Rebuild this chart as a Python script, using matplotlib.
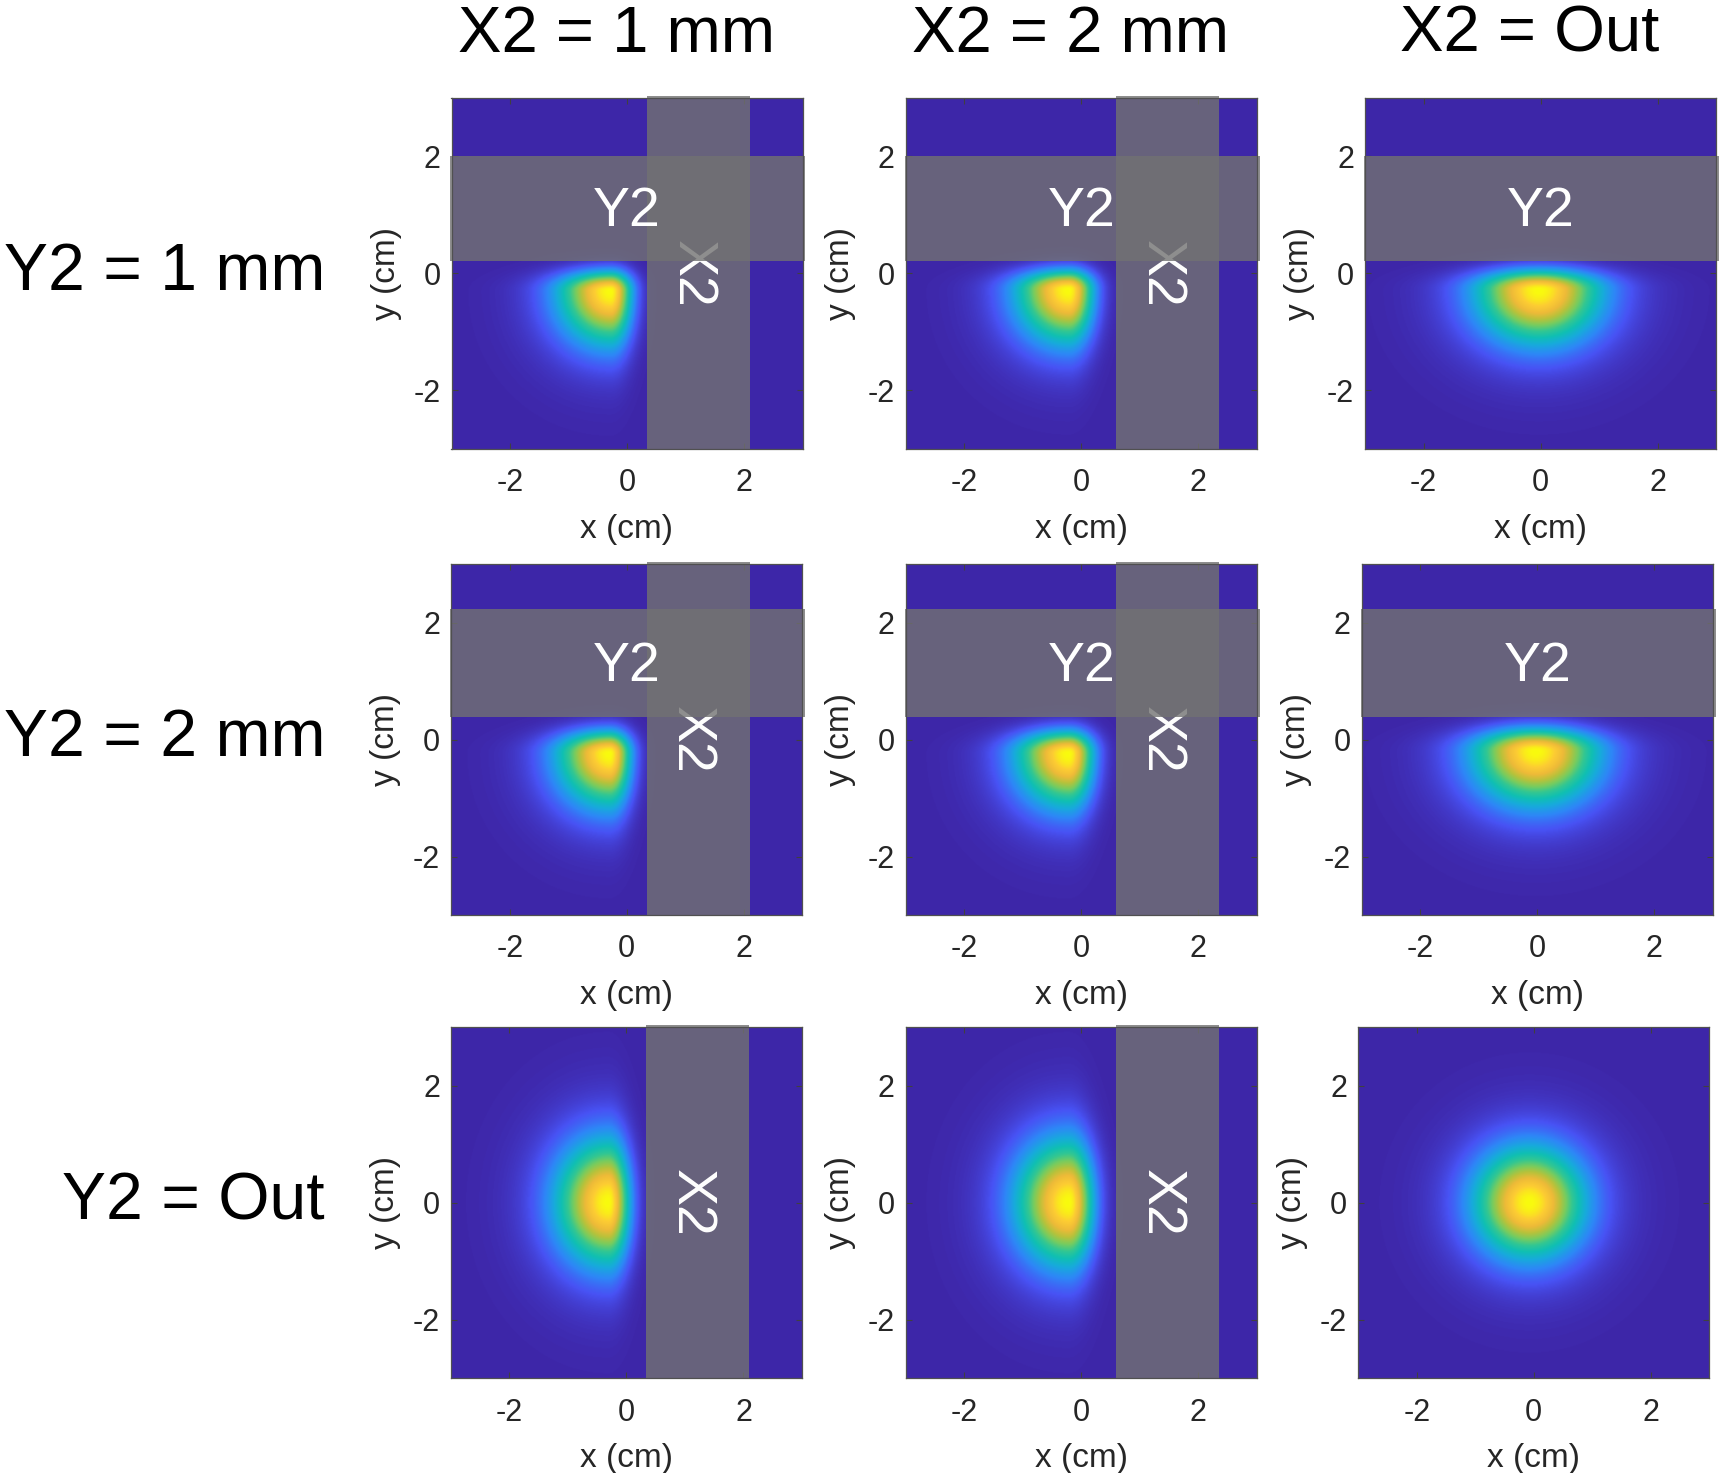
import numpy as np
import matplotlib
matplotlib.use("Agg")
import matplotlib.pyplot as plt
from matplotlib.colors import LinearSegmentedColormap
from matplotlib.patches import Rectangle

plt.rcParams['font.family'] = ['Liberation Sans', 'DejaVu Sans']

# ---------------- data ----------------
col_titles = ["X2 = 1 mm", "X2 = 2 mm", "X2 = Out"]
row_titles = ["Y2 = 1 mm", "Y2 = 2 mm", "Y2 = Out"]
tick_vals = [-2, 0, 2]
tick_labels = ["-2", "0", "2"]
x_label = "x (cm)"
y_label = "y (cm)"
band_x_text = "X2"
band_y_text = "Y2"

# jaw shadow extents (cm) per column (X2) and per row (Y2); None = jaw out
x2_band = [(0.34, 2.10), (0.60, 2.35), None]
y2_band = [(0.22, 2.01), (0.39, 2.23), None]

# beam-profile parameters (rows: Y2, cols: X2)
peak_x = [[-0.29, -0.22, -0.03],
          [-0.29, -0.22, -0.03],
          [-0.31, -0.22, -0.07]]
peak_y = [[-0.30, -0.28, -0.28],
          [-0.24, -0.24, -0.20],
          [0.00, 0.00, 0.00]]
sigma_left = [[0.55, 0.55, 0.66],
              [0.55, 0.55, 0.66],
              [0.55, 0.55, 0.58]]
sigma_right = [[0.24, 0.28, 0.66],
               [0.24, 0.28, 0.66],
               [0.24, 0.28, 0.58]]
sigma_down = [[0.56, 0.56, 0.56],
              [0.56, 0.56, 0.56],
              [0.66, 0.66, 0.58]]
sigma_up = [[0.22, 0.22, 0.22],
            [0.25, 0.25, 0.25],
            [0.66, 0.66, 0.58]]
halo_weight = 0.18
halo_scale = 1.6

# ---------------- style ----------------
parula = LinearSegmentedColormap.from_list("parula_like", [
    (0.00, (0.2422, 0.1504, 0.6603)),
    (0.10, (0.2810, 0.3228, 0.9579)),
    (0.20, (0.1786, 0.5289, 0.9682)),
    (0.30, (0.0900, 0.6700, 0.8600)),
    (0.40, (0.0600, 0.7500, 0.7000)),
    (0.50, (0.2000, 0.7800, 0.5700)),
    (0.60, (0.4700, 0.8000, 0.3700)),
    (0.70, (0.7200, 0.7600, 0.2300)),
    (0.80, (0.9300, 0.7300, 0.2200)),
    (0.90, (0.9900, 0.8000, 0.2000)),
    (1.00, (0.9763, 0.9831, 0.0538)),
])

W, H = 1720, 1473
fig = plt.figure(figsize=(W / 100, H / 100), dpi=100)

col_left_px = [[451.5, 905.7, 1365.0],
               [451.3, 905.7, 1361.7],
               [451.0, 905.7, 1358.3]]
row_top_px = [98.0, 564.0, 1027.3]
size_px = 351.0

band_color = (0.447, 0.447, 0.447)
band_alpha = 0.8

xg = np.linspace(-3, 3, 401)
yg = np.linspace(-3, 3, 401)
XX, YY = np.meshgrid(xg, yg)


def half_gauss(dx, dy, sl, sr, sd, su, k=1.0):
    # widen only the open (un-collimated) sides for the halo
    kk = lambda s: s * k if s > 0.4 else s
    sx = np.where(dx < 0, kk(sl), kk(sr))
    sy = np.where(dy < 0, kk(sd), kk(su))
    return np.exp(-0.5 * (dx / sx) ** 2) * np.exp(-0.5 * (dy / sy) ** 2)


for r in range(3):
    for c in range(3):
        l = col_left_px[r][c]
        t = row_top_px[r]
        ax = fig.add_axes([l / W, 1 - (t + size_px) / H, size_px / W, size_px / H])
        dx = XX - peak_x[r][c]
        dy = YY - peak_y[r][c]
        args = (sigma_left[r][c], sigma_right[r][c], sigma_down[r][c], sigma_up[r][c])
        Z = (1 - halo_weight) * half_gauss(dx, dy, *args) + \
            halo_weight * half_gauss(dx, dy, *args, k=halo_scale)
        Z = Z / Z.max()
        ax.imshow(Z, extent=[-3, 3, -3, 3], origin='lower', cmap=parula,
                  vmin=0, vmax=1, aspect='auto', interpolation='bilinear', zorder=0)
        if x2_band[c] is not None:
            x0, x1 = x2_band[c]
            ax.add_patch(Rectangle((x0, -3.02), x1 - x0, 6.06, facecolor=band_color,
                                   alpha=band_alpha, edgecolor='none', clip_on=False, zorder=2))
            ax.text((x0 + x1) / 2 - 0.12, 0.0, band_x_text, rotation=-90, color='white',
                    fontsize=40, ha='center', va='center', zorder=3)
        if y2_band[r] is not None:
            y0, y1 = y2_band[r]
            ax.add_patch(Rectangle((-3.02, y0), 6.07, y1 - y0, facecolor=band_color,
                                   alpha=band_alpha, edgecolor='none', clip_on=False, zorder=4))
            ax.text(0.0, (y0 + y1) / 2 - 0.07, band_y_text, color='white',
                    fontsize=40, ha='center', va='center', zorder=5)
        ax.set_xlim(-3, 3)
        ax.set_ylim(-3, 3)
        ax.set_xticks(tick_vals)
        ax.set_xticklabels(tick_labels)
        ax.set_yticks(tick_vals)
        ax.set_yticklabels(tick_labels)
        ax.tick_params(direction='in', length=4, width=0.8, colors='#404040',
                       labelcolor='#262626', labelsize=22, top=True, right=True)
        ax.tick_params(axis='x', pad=14)
        ax.tick_params(axis='y', pad=8)
        for s in ax.spines.values():
            s.set_color('#505050')
            s.set_linewidth(0.9)
            s.set_zorder(6)
        ax.set_xlabel(x_label, fontsize=24, color='#262626')
        ax.set_ylabel(y_label, fontsize=24, color='#262626')
        ax.xaxis.set_label_coords(0.5, -0.185)
        ax.yaxis.set_label_coords(-0.142, 0.5)

# column titles
for c in range(3):
    cx = col_left_px[0][c] + size_px / 2 - 11
    fig.text(cx / W, 1 - 52 / H, col_titles[c], fontsize=47, ha='center',
             va='baseline', color='black')

# row titles
for r in range(3):
    cy = row_top_px[r] + size_px / 2 + 17
    fig.text(325 / W, 1 - cy / H, row_titles[r], fontsize=47.5, ha='right',
             va='baseline', color='black')

fig.savefig("out.png", dpi=100, facecolor='white')
